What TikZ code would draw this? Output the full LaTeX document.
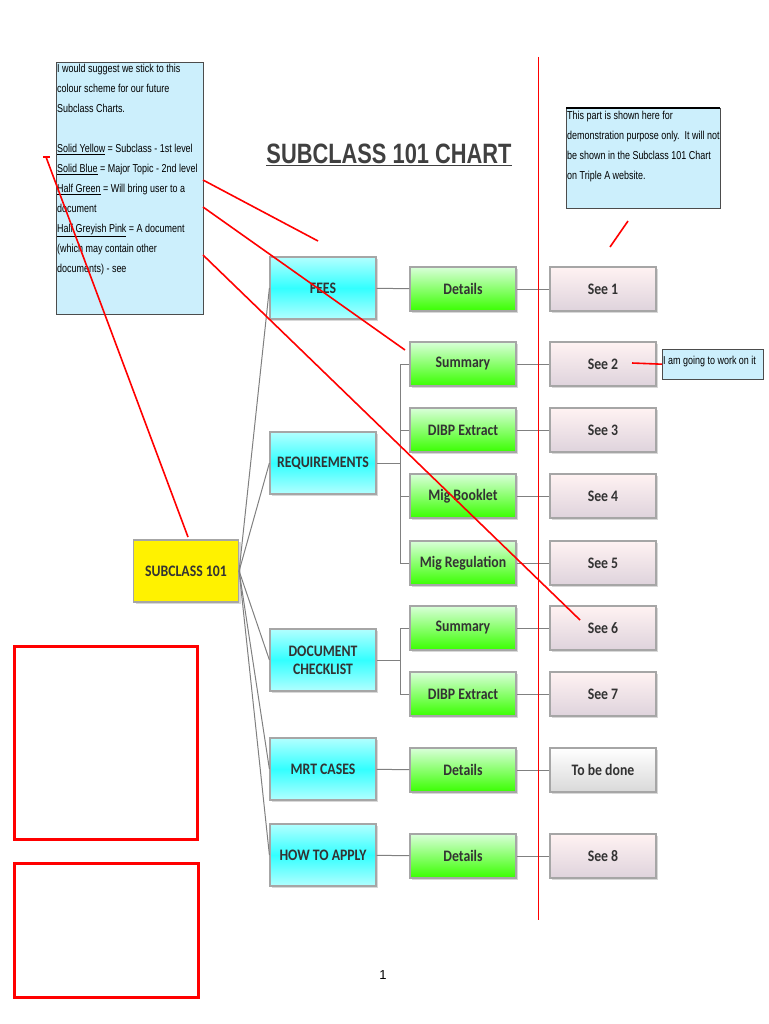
\documentclass[tikz,border=0pt]{standalone}
\usepackage{fontspec}
\setmainfont{Liberation Sans}
\newfontfamily\boxfont[FakeStretch=0.86]{Carlito}
\newfontfamily\notefont[FakeStretch=0.78]{Liberation Sans}
\usetikzlibrary{shadows}
\begin{document}
\begin{tikzpicture}[x=1pt,y=-1pt,
  bx/.style={minimum width=106pt,minimum height=44pt,draw=gray!70,line width=1.2pt,
    font=\boxfont\bfseries\fontsize{16}{18}\selectfont,text=black!80,align=center,
    drop shadow={shadow xshift=2pt,shadow yshift=-2pt,fill=gray!60}},
  blue/.style={bx,minimum height=62pt,top color=cyan!30,bottom color=cyan!30,middle color=cyan!80!white,fill=cyan!80},
  yel/.style={bx,minimum width=105pt,minimum height=62pt,fill=yellow},
  grn/.style={bx,top color=green!15,bottom color=green!70!lime},
  pnk/.style={bx,top color=red!5,bottom color=red!20!magenta!15!gray!30},
  gry/.style={bx,top color=white,bottom color=gray!30},
  conn/.style={draw=gray,line width=1pt},
  redl/.style={draw=red,line width=1.6pt},
  note/.style={font=\notefont\fontsize{11.5}{20}\selectfont,align=left,anchor=north west,inner sep=1pt}]
\useasboundingbox (0,0) rectangle (768,1024);
% notes
\node[draw=black!70,fill=cyan!20,minimum width=147pt,minimum height=252pt,anchor=north west,inner sep=0] (n1) at (56,62) {};
\node[note] (n1t) at (56,63) {I would suggest we stick to this\\colour scheme for our future\\Subclass Charts.\\[20pt]
\underline{Solid Yellow} = Subclass - 1st level\\\underline{Solid Blue} = Major Topic - 2nd level\\\underline{Half Green} = Will bring user to a\\document\\\underline{Half Greyish Pink} = A document\\(which may contain other\\documents) - see};
\node[draw=black!70,fill=cyan!20,minimum width=154pt,minimum height=100pt,anchor=north west,inner sep=0] (n2) at (566,108) {};
\draw[line width=2pt] (566,108) -- (720,108);
\node[note] (n2t) at (566,110) {This part is shown here for\\demonstration purpose only.\ \ It will not\\be shown in the Subclass 101 Chart\\on Triple A website.};
\node[draw=black!70,fill=cyan!20,minimum width=101pt,minimum height=30pt,anchor=north west,inner sep=0] (n3) at (662,349) {};
\node[note,anchor=west] (n3t) at (662,362) {I am going to work on it};
\node[font=\notefont\bfseries\fontsize{28}{30}\selectfont,text=black!75] (title) at (389,155) {\underline{SUBCLASS 101 CHART}};
% boxes
\node[yel] (s) at (186,571) {SUBCLASS 101};
\node[blue] (fees) at (323,288) {FEES};
\node[blue] (req) at (323,463) {REQUIREMENTS};
\node[blue] (doc) at (323,660) {DOCUMENT\\CHECKLIST};
\node[blue] (mrt) at (323,769) {MRT CASES};
\node[blue] (how) at (323,855) {HOW TO APPLY};
\foreach \n/\t/\y in {g1/Details/289,g2/Summary/364,g3/DIBP Extract/430,g4/Mig Booklet/496,g5/Mig Regulation/563,g6/Summary/628,g7/DIBP Extract/694,g8/Details/770,g9/Details/856}
  \node[grn] (\n) at (463,\y) {\t};
\foreach \n/\t/\y in {p1/See 1/289,p2/See 2/364,p3/See 3/430,p4/See 4/496,p5/See 5/563,p6/See 6/628,p7/See 7/694,p9/See 8/856}
  \node[pnk] (\n) at (603,\y) {\t};
\node[gry] (p8) at (603,770) {To be done};
% connectors
\foreach \b in {fees,req,doc,mrt,how} \draw[conn] (s.east) -- (\b.west);
\draw[conn] (fees) -- (g1);
\draw[conn] (mrt) -- (g8);
\draw[conn] (how) -- (g9);
\coordinate (rj) at (400,463);
\draw[conn] (req.east) -- (rj);
\draw[conn] (400,364) -- (400,563);
\foreach \g in {g2,g3,g4,g5} \draw[conn] (\g.west) -- (\g.west -| rj);
\coordinate (dj) at (400,660);
\draw[conn] (doc.east) -- (dj);
\draw[conn] (400,628) -- (400,694);
\foreach \g in {g6,g7} \draw[conn] (\g.west) -- (\g.west -| dj);
\foreach \i in {1,...,9} \draw[conn] (g\i) -- (p\i);
% red annotations
\draw[draw=red,line width=1pt] (538,57) -- (538,920);
\draw[redl] (203,180) -- (318,241);
\draw[redl] (203,207) -- (405,350);
\draw[redl] (203,255) -- (580,620);
\draw[redl] (46,157) -- (188,537);
\draw[redl] (43,157) -- (50,157);
\draw[redl] (610,247) -- (628,221);
\draw[redl] (632,363) -- (n3.west);
\draw[draw=red,line width=3pt] (14,646) rectangle (197,839);
\draw[draw=red,line width=3pt] (14,863) rectangle (198,997);
\node[font=\fontsize{13}{15}\selectfont] (pg) at (383,975) {1};
\end{tikzpicture}
\end{document}
